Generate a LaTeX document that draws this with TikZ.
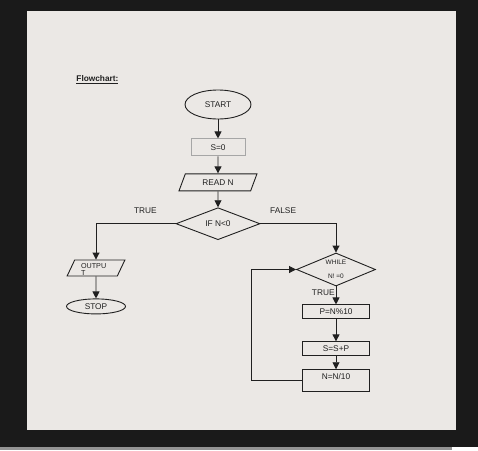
\documentclass[tikz,border=0pt]{standalone}
\usepackage{fontspec}
\setmainfont{Liberation Sans}
\usepackage{tikz}
\usetikzlibrary{calc,arrows.meta,positioning,shapes.geometric}
\definecolor{pagebg}{HTML}{EBE8E5}
\definecolor{frame}{HTML}{1A1A1A}
\definecolor{ink}{HTML}{202020}

\begin{document}
\begin{tikzpicture}[x=1pt,y=-1pt,line width=0.9pt,color=ink,
  font=\fontsize{8.3}{10}\selectfont,
  arr/.style={->,>={Triangle[length=7pt,width=7pt]}},
  term/.style={ellipse,draw,inner sep=0pt},
  proc/.style={rectangle,draw,inner sep=0pt},
  io/.style={trapezium,trapezium left angle=62,trapezium right angle=118,trapezium stretches=true,draw,inner sep=0pt},
  dec/.style={diamond,draw,inner sep=0pt}]

  \useasboundingbox (0,0) rectangle (478,450);
  \fill[frame] (0,0) rectangle (478,450);
  \fill[pagebg] (27,11) rectangle (456,430);
  \fill[gray!85] (0,447) rectangle (452,450);
  \fill[white] (452,447) rectangle (478,450);

  \node[anchor=west,inner sep=0pt] (title) at (76,80) {\underline{\textbf{Flowchart:}}};

  \node[term,minimum width=66pt,minimum height=29pt] (start) at (218,104.5) {START};
  \node[proc,draw=gray!70,minimum width=54pt,minimum height=17pt] (s0) [below=19pt of start] {S=0};
  \node[io,minimum width=78pt,minimum height=17pt] (read) [below=17pt of s0] {READ N};
  \node[dec,aspect=2.6,minimum width=84pt,minimum height=32pt] (ifneg) [below=16pt of read] {IF N<0};

  \node[io,minimum width=58pt,minimum height=16pt,text width=30pt,align=left,text depth=5pt,
        font=\fontsize{7.2}{7.5}\selectfont] (output) at (96,268) {OUTPU\\T};
  \node[term,minimum width=59pt,minimum height=15pt] (stop) [below=22pt of output] {STOP};

  \node[dec,aspect=2.4,minimum width=79pt,minimum height=33pt,align=center,
        font=\fontsize{6.5}{14}\selectfont] (while) at (336,269.5) {WHILE\\N! =0};
  \node[proc,minimum width=67pt,minimum height=14pt] (pmod) [below=18pt of while] {P=N\%10};
  \node[proc,minimum width=67pt,minimum height=14pt] (ssum) [below=22pt of pmod] {S=S+P};
  \node[proc,minimum width=67pt,minimum height=22pt,text height=6pt,text depth=9pt] (ndiv) [below=13pt of ssum] {N=N/10};
  \coordinate (loopx) at (251,0);

  \path[arr]
    (start) edge (s0)
    (s0) edge (read)
    (read) edge (ifneg)
    (output) edge (stop)
    (while) edge node[left,inner sep=1pt,pos=.35] {TRUE} (pmod)
    (pmod) edge (ssum)
    (ssum) edge (ndiv);
  \draw[arr] (ifneg.west) -| node[pos=.19,above=6pt] {TRUE} (output.north);
  \draw[arr] (ifneg.east) -| node[pos=.15,above=6pt] {FALSE} (while.north);
  \draw[arr] (ndiv.west) -- (ndiv.west -| loopx) |- (while.west);

\end{tikzpicture}
\end{document}
